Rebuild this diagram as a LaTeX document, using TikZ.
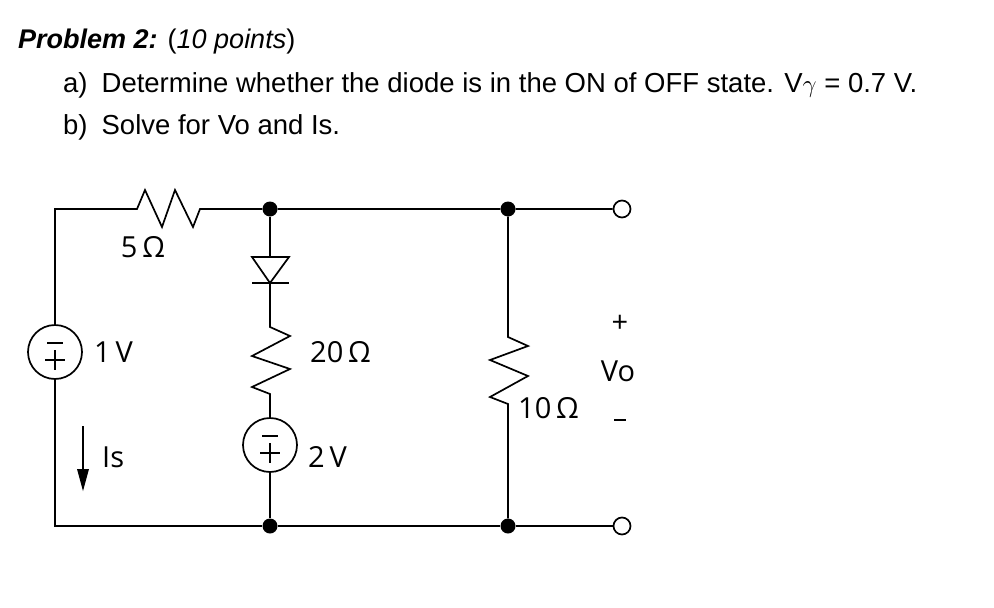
\documentclass[tikz,border=0pt]{standalone}
\usepackage{fontspec}
\setmainfont{Open Sans}
\newfontfamily\tfont{Liberation Sans}
\begin{document}
\begin{tikzpicture}[x=1pt,y=-1pt,
  w/.style={line width=1.7pt,line join=miter},
  dot/.style={circle,fill=black,inner sep=0pt,minimum size=15pt},
  term/.style={circle,draw,line width=1.7pt,fill=white,inner sep=0pt,minimum size=17pt},
  src/.style={circle,draw,line width=1.7pt,inner sep=0pt,minimum size=54pt},
  lab/.style={font=\fontsize{29}{32}\selectfont,inner sep=0pt}]
\useasboundingbox (0,0) rectangle (994,608);
\node[anchor=base west,inner sep=0pt,font=\tfont\fontsize{27}{30}\selectfont] (title) at (18,48) {\textbf{\textit{Problem 2:}} (\textit{10 points})};
\node[anchor=base west,inner sep=0pt,font=\tfont\fontsize{27.5}{30}\selectfont] (qa) at (63,92) {a)\hspace{14pt}Determine whether the diode is in the ON of OFF state. V$\gamma$ = 0.7 V.};
\node[anchor=base west,inner sep=0pt,font=\tfont\fontsize{27.5}{30}\selectfont] (qb) at (63,134) {b)\hspace{14pt}Solve for Vo and Is.};
% nodes
\coordinate (tl) at (55,209); \coordinate (bl) at (55,526);
\node[dot] (n1) at (270,209) {}; \node[dot] (n2) at (508,209) {};
\node[dot] (n3) at (270,526) {}; \node[dot] (n4) at (508,526) {};
\node[src] (s1) at (55,352) {}; \node[src] (s2) at (270,445) {};
\node[term] (t1) at (622,209) {}; \node[term] (t2) at (622,526) {};
% wires
\draw[w] (s1.north) -- (tl) -- (137,209) -- (145,190) -- (162,227) -- (175,190) -- (193,227) -- (200,209) -- (n1) -- (n2) -- (t1);
\draw[w] (s1.south) -- (bl) -- (n3) -- (n4) -- (t2);
\draw[w] (n1) -- (270,257);
\draw[w] (252,257) -- (289,257) -- (270,283) -- cycle;
\draw[w] (252,283) -- (289,283);
\draw[w] (270,283) -- (270,327) -- (290,336) -- (252,356) -- (290,369) -- (252,387) -- (270,394) -- (s2.north);
\draw[w] (s2.south) -- (n3);
\draw[w] (n2) -- (508,337) -- (528,346) -- (490,360) -- (528,376) -- (490,397) -- (508,404) -- (n4);
% source signs
\foreach \s in {s1,s2}{
  \draw[line width=1.6pt] ([shift={(-8,-9)}]\s.center) -- ([shift={(8,-9)}]\s.center);
  \draw[line width=1.6pt] ([shift={(-10,8)}]\s.center) -- ([shift={(10,8)}]\s.center);
  \draw[line width=1.6pt] ([shift={(0,-2)}]\s.center) -- ([shift={(0,18)}]\s.center);
}
% arrow
\coordinate (a1) at (83,426); \coordinate (a2) at (83,470);
\draw[line width=1.6pt] (a1) -- (a2);
\fill (77,469) -- (89,469) -- (83,491) -- cycle;
% labels
\node[lab] (l5) at (143,247) {5\,Ω};
\node[lab,anchor=west] (l1) at (94,352) {1\,V};
\node[lab,anchor=west] (lis) at (102,457) {Is};
\node[lab,anchor=west] (l20) at (310,352) {20\,Ω};
\node[lab,anchor=west] (l2) at (308,457) {2\,V};
\node[lab,anchor=west] (l10) at (518,408) {10\,Ω};
\node[lab] (lp) at (620,324) {+};
\node[lab] (lv) at (618,371) {Vo};
\node[lab] (lm) at (620,420) {\rule{12pt}{1.8pt}};
\end{tikzpicture}
\end{document}
